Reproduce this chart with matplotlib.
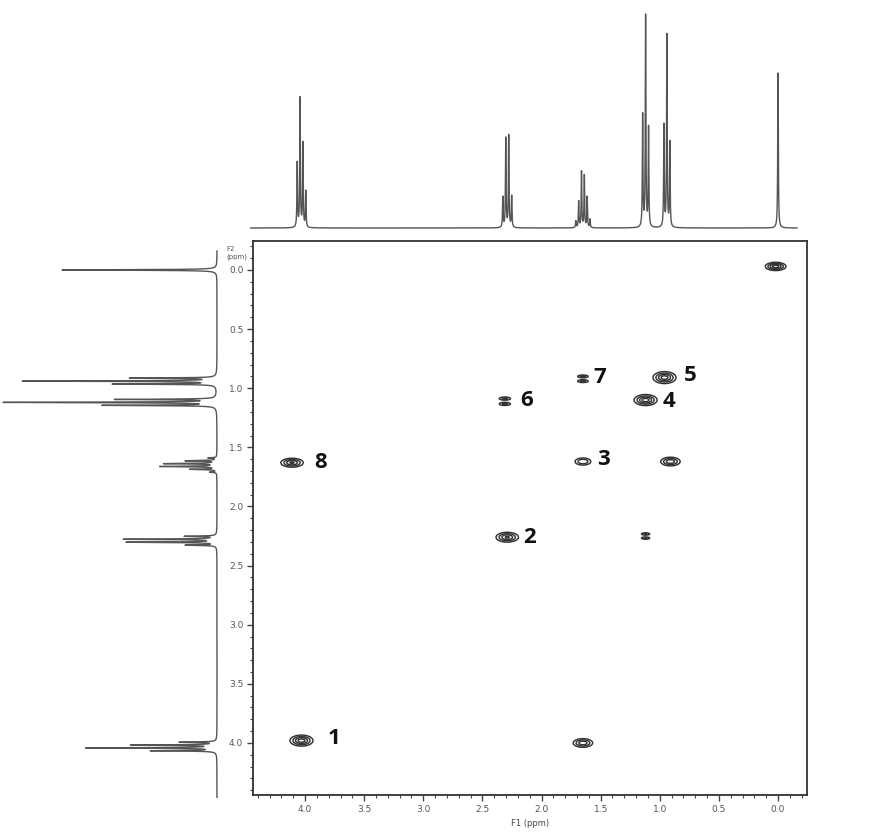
import numpy as np
import matplotlib
matplotlib.use("Agg")
import matplotlib.pyplot as plt
from matplotlib.ticker import MultipleLocator, FormatStrFormatter

# 1D proton spectrum: multiplet centres (ppm), line intensities (high ppm -> low ppm), coupling (ppm)
mult_center = [4.03, 2.29, 1.65, 1.12, 0.94, 0.0]
mult_lines = [
    [0.50, 1.00, 0.65, 0.28],
    [0.33, 0.97, 1.00, 0.34],
    [0.12, 0.47, 1.00, 0.93, 0.55, 0.15],
    [0.53, 1.00, 0.47],
    [0.53, 1.00, 0.44],
    [1.00],
]
mult_height = [129, 92, 56, 211, 192, 155]
mult_J = [0.024, 0.025, 0.024, 0.025, 0.025, 0.0]

# COSY cross peaks (F1, F2 in ppm), relative amplitude
cross_f1 = [0.02, 0.96, 1.12, 1.65, 2.31, 1.65, 0.91, 4.11, 2.29, 1.12, 4.03, 1.65]
cross_f2 = [-0.03, 0.91, 1.10, 0.92, 1.11, 1.62, 1.62, 1.63, 2.26, 2.25, 3.98, 4.00]
cross_amp = [1.0, 1.0, 1.0, 0.45, 0.45, 0.6, 0.8, 0.9, 0.9, 0.4, 1.0, 0.8]
# peak shapes (widths and doublet splitting along F2)
cross_sx = [0.045, 0.05, 0.05, 0.03, 0.032, 0.04, 0.045, 0.05, 0.05, 0.025, 0.05, 0.045]
cross_sy = [0.018, 0.026, 0.024, 0.008, 0.009, 0.018, 0.02, 0.02, 0.022, 0.007, 0.024, 0.02]
cross_split = [0, 0, 0, 0.04, 0.045, 0, 0, 0, 0, 0.035, 0, 0]

# numbered labels -> index of cross peak, offset in pixels
labels = ["1", "2", "3", "4", "5", "6", "7", "8"]
label_peak = [10, 8, 5, 2, 1, 4, 3, 7]
label_off = [(33, 2), (22, 0), (21, 2), (23, -1), (26, 2), (22, 1), (17, 1), (29, 0)]

XL = (4.44, -0.245)
YL = (4.44, -0.245)

# build 1D trace from the multiplet list
ppm = np.linspace(4.46, -0.16, 30000)
spec = np.zeros_like(ppm)
w = 0.003
for c, lines, h, J in zip(mult_center, mult_lines, mult_height, mult_J):
    n = len(lines)
    for k, inten in enumerate(lines):
        pos = c + ((n - 1) / 2.0 - k) * J
        spec += h * inten / (1 + ((ppm - pos) / w) ** 2)

fig = plt.figure(figsize=(8.78, 8.34), dpi=100)

# main 2D plot
ax = fig.add_axes([253/878, 1-795/834, 554/878, 554/834])
gx = np.linspace(XL[1], XL[0], 1600)
gy = np.linspace(YL[1], YL[0], 1600)
X, Y = np.meshgrid(gx, gy)
Z = np.zeros_like(X)
for f1, f2, a, sx, sy, sp in zip(cross_f1, cross_f2, cross_amp, cross_sx, cross_sy, cross_split):
    if sp == 0:
        Z += a * np.exp(-((X - f1)**2 / (2*sx**2) + (Y - f2)**2 / (2*sy**2)))
    else:
        for d in (-sp/2, sp/2):
            Z += a * np.exp(-((X - f1)**2 / (2*sx**2) + (Y - f2 - d)**2 / (2*sy**2)))
ax.contour(X, Y, Z, levels=[0.15, 0.35, 0.6, 0.85], colors="#333333", linewidths=1.05)

for t, pi, off in zip(labels, label_peak, label_off):
    ax.annotate(t, (cross_f1[pi], cross_f2[pi]), xytext=off, textcoords="offset pixels",
                fontsize=16, fontweight="bold", family="Open Sans", color="#111",
                ha="center", va="center")

ax.set_xlim(XL)
ax.set_ylim(YL)
for s in ax.spines.values():
    s.set_linewidth(1.3)
    s.set_color("#333")
for a_ in (ax.xaxis, ax.yaxis):
    a_.set_major_locator(MultipleLocator(0.5))
    a_.set_minor_locator(MultipleLocator(0.1))
    a_.set_major_formatter(FormatStrFormatter("%.1f"))
ax.tick_params(which="major", direction="out", length=4, width=1, color="#444",
               labelsize=6.5, labelcolor="#555", pad=3)
ax.tick_params(which="minor", direction="out", length=2, width=0.8, color="#444")
ax.set_xlabel("F1 (ppm)", fontsize=6, color="#444", labelpad=4)
fig.text(226/878, 1-246/834, "F2\n(ppm)", fontsize=5, color="#555", va="top", ha="left")

# top projection
axt = fig.add_axes([253/878, 1-232/834, 554/878, 224/834])
axt.plot(ppm, spec, color="#555", lw=1.0, clip_on=False)
axt.set_xlim(XL)
axt.set_ylim(-4, 220)
axt.axis("off")

# left projection
axl = fig.add_axes([0, 1-795/834, 221/878, 554/834])
axl.plot(spec, ppm, color="#555", lw=1.0, clip_on=False)
axl.set_xlim(217, -4)
axl.set_ylim(YL)
axl.axis("off")

fig.savefig("out.png", dpi=100)
